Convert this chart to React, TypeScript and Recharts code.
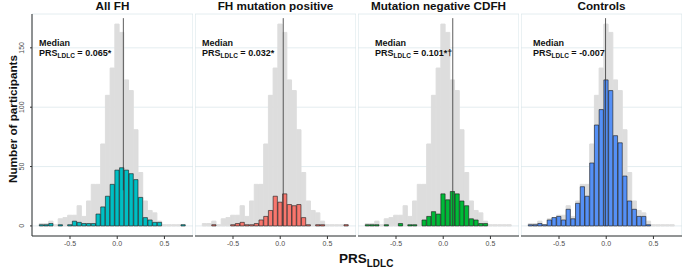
import React from 'react';
import { BarChart, Bar, XAxis, YAxis, CartesianGrid, ReferenceLine } from 'recharts';

// histogram bins (bin centres, width 0.05)
const bins = [-0.8, -0.75, -0.7, -0.65, -0.6, -0.55, -0.5, -0.45, -0.4, -0.35, -0.3, -0.25, -0.2, -0.15, -0.1, -0.05, 0, 0.05, 0.1, 0.15, 0.2, 0.25, 0.3, 0.35, 0.4, 0.45, 0.5, 0.55, 0.6, 0.65, 0.7];

// grey background: everyone
const totalCounts = [2, 2, 4, 1, 6, 7, 9, 9, 17, 8, 21, 35, 35, 69, 110, 133, 170, 163, 123, 114, 81, 45, 21, 13, 11, 4, 1, 1, 1, 1, 1];
const allFhCounts = [1, 1, 2, 0, 1, 0, 1, 4, 3, 2, 2, 2, 10, 16, 25, 35, 47, 49, 47, 44, 39, 24, 7, 5, 3, 3, 0, 0, 0, 0, 1];
const mutPosCounts = [0, 0, 1, 0, 0, 0, 1, 2, 3, 1, 1, 2, 5, 8, 13, 25, 20, 27, 18, 17, 18, 7, 1, 0, 1, 1, 0, 0, 0, 0, 1];
const mutNegCounts = [1, 1, 1, 0, 1, 0, 0, 2, 0, 1, 1, 0, 5, 8, 12, 10, 27, 22, 29, 27, 21, 17, 6, 5, 2, 2, 0, 0, 0, 0, 0];
const controlCounts = [1, 1, 2, 1, 5, 7, 8, 5, 14, 6, 19, 33, 25, 53, 85, 98, 123, 114, 76, 70, 42, 21, 14, 8, 8, 1, 0, 0, 0, 0, 0];

const titles = ['All FH', 'FH mutation positive', 'Mutation negative CDFH', 'Controls'];
const medians = [0.065, 0.032, 0.101, -0.007];
const medianLabels = ['0.065*', '0.032*', '0.101*\u2020', '-0.007'];
const xTicks = [-0.5, 0, 0.5];
const yTicks = [0, 50, 100, 150];

const FONT = '"Liberation Sans", Arial, Helvetica, sans-serif';
const X_DOMAIN = [-0.9025, 0.8025];
const Y_DOMAIN = [-8.5, 178.5];
const PLOT_W = 161;
const PLOT_TOP = 14;
const CHART_H = 256;
const AXIS_H = 20;
const Y_AXIS_W = 32;
const BIN_PX = (PLOT_W * 0.05) / (X_DOMAIN[1] - X_DOMAIN[0]);

const panels = [
  { counts: allFhCounts, color: '#00BFC4', left: 32, textDx: 7, lineFrom: 30 },
  { counts: mutPosCounts, color: '#F8766D', left: 195, textDx: 7, lineFrom: 0 },
  { counts: mutNegCounts, color: '#00BA38', left: 358, textDx: 17, lineFrom: 0 },
  { counts: controlCounts, color: '#5590f6', left: 521, textDx: 12, lineFrom: 0 },
];

const YTick = (props: any) => {
  const { x, y, payload } = props;
  return (
    <text x={x} y={y} transform={`rotate(-90 ${x} ${y})`} textAnchor="middle"
      fontSize={7} fill="#4d4d4d" fontFamily={FONT}>
      {payload.value}
    </text>
  );
};

function Panel({ idx }: { idx: number }) {
  const p = panels[idx];
  const first = idx === 0;
  const yW = first ? Y_AXIS_W : 0;
  const data = bins.map((b, i) => ({ bin: b, total: totalCounts[i], count: p.counts[i] }));

  return (
    <div style={{ position: 'absolute', left: p.left - yW, top: 0 }}>
      <BarChart width={PLOT_W + yW} height={CHART_H} data={data}
        margin={{ top: PLOT_TOP, right: 0, bottom: 0, left: 0 }} barCategoryGap={0} barGap={0}>
        <CartesianGrid xAxisId="fg" vertical={false} stroke="#dde9ec" strokeWidth={0.8} />
        <XAxis xAxisId="fg" dataKey="bin" type="number" domain={X_DOMAIN} allowDataOverflow
          ticks={xTicks} interval={0} height={AXIS_H} tickFormatter={(v: number) => v.toFixed(1)}
          tickSize={3} tickMargin={2} axisLine={{ stroke: '#333' }} tickLine={{ stroke: '#333' }}
          tick={{ fontSize: 7, fill: '#4d4d4d', fontFamily: FONT }} />
        <XAxis xAxisId="bg" dataKey="bin" type="number" domain={X_DOMAIN} allowDataOverflow hide height={0} />
        <YAxis domain={Y_DOMAIN} allowDataOverflow ticks={yTicks} interval={0} hide={!first} width={yW}
          tickSize={2} tickMargin={6} axisLine={{ stroke: '#333' }} tickLine={{ stroke: '#333' }}
          tick={<YTick />} />
        <ReferenceLine xAxisId="fg" x={X_DOMAIN[0]} stroke="#d6e4e8" />
        <ReferenceLine xAxisId="fg" x={X_DOMAIN[1]} stroke="#d6e4e8" />
        <Bar xAxisId="bg" dataKey="total" fill="#dddddd" stroke="#dddddd" strokeWidth={1}
          barSize={BIN_PX} isAnimationActive={false} />
        <Bar xAxisId="fg" dataKey="count" fill={p.color} stroke="#1a1a1a" strokeWidth={0.6}
          barSize={BIN_PX} isAnimationActive={false} />
        <ReferenceLine xAxisId="fg" segment={[{ x: medians[idx], y: p.lineFrom }, { x: medians[idx], y: 175 }]}
          stroke="#333" strokeWidth={0.8} />
      </BarChart>
    </div>
  );
}

export default function App() {
  return (
    <div style={{ position: 'absolute', left: 0, top: 0, width: 685, height: 268, background: '#fff', fontFamily: FONT }}>
      {panels.map((_, i) => <Panel key={i} idx={i} />)}
      <svg width={685} height={268} style={{ position: 'absolute', left: 0, top: 0, pointerEvents: 'none' }}>
        {panels.map((p, i) => (
          <g key={i} fontFamily={FONT} fontWeight="bold" fill="#111">
            <text x={p.left + PLOT_W / 2} y={9.5} textAnchor="middle" fontSize={11.7}>{titles[i]}</text>
            <text x={p.left + p.textDx} y={45.5} fontSize={9}>Median</text>
            <text x={p.left + p.textDx} y={55.7} fontSize={9}>
              PRS<tspan fontSize={6.5} dy={1.8}>LDLC</tspan><tspan dy={-1.8}> = {medianLabels[i]}</tspan>
            </text>
          </g>
        ))}
        <text x={16.5} y={119} transform="rotate(-90 16.5 119)" textAnchor="middle" fontFamily={FONT}
          fontWeight="bold" fontSize={11.7} fill="#111">Number of participants</text>
        <text x={339} y={263} fontFamily={FONT} fontWeight="bold" fontSize={13.5} fill="#111">
          PRS<tspan fontSize={10} dy={3.5}>LDLC</tspan>
        </text>
      </svg>
    </div>
  );
}
